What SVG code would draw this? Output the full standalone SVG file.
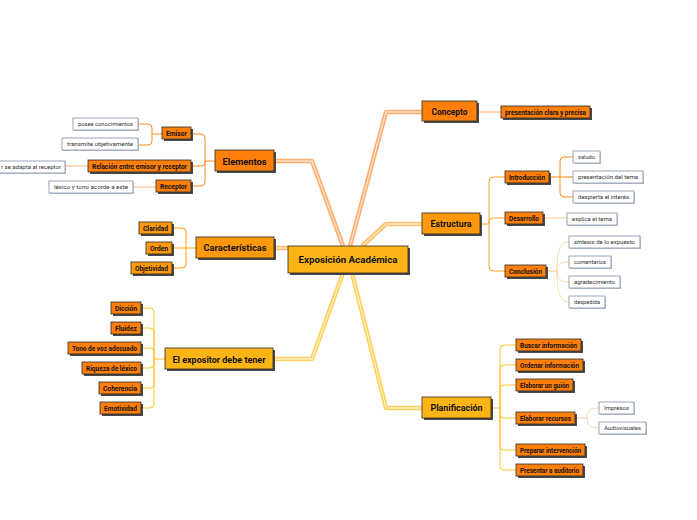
<svg xmlns="http://www.w3.org/2000/svg" width="697" height="520" viewBox="0 0 697 520">
<style>
text{font-family:Roboto,"Liberation Sans",sans-serif;}
.m{font-size:9.5px;font-weight:bold;fill:#111;text-anchor:middle;}
.s{font-size:6.5px;font-weight:bold;fill:#111;}
.l{font-size:6px;fill:#333;}
.sh{fill:#4a4a4a;}
.lsh{fill:#c4c8d0;}
.c1{fill:#ff7f0a;stroke:#2a2a2a;stroke-width:0.8;}
.c2{fill:#ff980a;stroke:#2a2a2a;stroke-width:0.8;}
.c3{fill:#fdb515;stroke:#2a2a2a;stroke-width:0.8;}
.lf{fill:#fff;stroke:#8090a8;stroke-width:0.8;}
.co{fill:none;stroke-linejoin:round;}
</style>
<rect width="697" height="520" fill="#fff"/>
<g id="connectors">
  <!-- main connectors -->
  <g class="co" stroke-width="4.5">
    <path d="M274,161 H312 L343,246" stroke="#ffae70"/>
    <path d="M274,248 H288" stroke="#ffc070"/>
    <path d="M274,359 H312 L343,273" stroke="#ffd060"/>
    <path d="M350,246 L386,112 H422" stroke="#ffae70"/>
    <path d="M362,246 L386,224 H422" stroke="#ffc070"/>
    <path d="M352,273 L386,408 H422" stroke="#ffd060"/>
  </g>
  <g class="co" stroke-width="1.3">
    <path d="M274,161 H312 L343,246" stroke="#ffe2c8"/>
    <path d="M274,248 H288" stroke="#ffe6c0"/>
    <path d="M274,359 H312 L343,273" stroke="#fff0c0"/>
    <path d="M350,246 L386,112 H422" stroke="#ffe2c8"/>
    <path d="M362,246 L386,224 H422" stroke="#ffe6c0"/>
    <path d="M352,273 L386,408 H422" stroke="#fff0c0"/>
  </g>
  <!-- Concepto -->
  <path class="co" d="M477,112 H501" stroke="#ffb880" stroke-width="1.2"/>
  <!-- Estructura -->
  <g class="co" stroke="#ffa020" stroke-width="1">
    <path d="M480,224 H489 V181 Q489,177 493,177 H505"/>
    <path d="M489,224 V222 Q489,218 493,218 H505"/>
    <path d="M489,224 V267 Q489,271 493,271 H505"/>
  </g>
  <g class="co" stroke="#ff8a10" stroke-width="1">
    <path d="M549,177 H560 V161 Q560,157 564,157 H573"/>
    <path d="M560,177 H573"/>
    <path d="M560,177 V193 Q560,197 564,197 H573"/>
  </g>
  <path class="co" d="M543,218 H567" stroke="#ffd0a8" stroke-width="1.2"/>
  <g class="co" stroke="#ffd0a8" stroke-width="0.9">
    <path d="M546,271 H557 C557,250 560,242 569,242"/>
    <path d="M557,271 C557,264 560,262 569,262"/>
    <path d="M557,271 C557,278 560,282 569,282"/>
    <path d="M557,271 C557,292 560,302 569,302"/>
    <path d="M546,271 H557"/>
  </g>
  <!-- Planificación -->
  <g class="co" stroke="#ffc428" stroke-width="1">
    <path d="M491,408 H500 V349 Q500,345 504,345 H516"/>
    <path d="M500,408 V369 Q500,365 504,365 H516"/>
    <path d="M500,408 V389 Q500,385 504,385 H516"/>
    <path d="M500,408 V414 Q500,418 504,418 H516"/>
    <path d="M500,408 V446 Q500,450 504,450 H516"/>
    <path d="M500,408 V466 Q500,470 504,470 H516"/>
  </g>
  <g class="co" stroke="#ffc9a0" stroke-width="0.9">
    <path d="M575,418 H587 C587,411 590,408 599,408"/>
    <path d="M587,418 C587,425 590,428 599,428"/>
  </g>
  <!-- Elementos -->
  <g class="co" stroke="#ff8a1a" stroke-width="1">
    <path d="M215,161 H205 V138 Q205,134 201,134 H191"/>
    <path d="M205,161 V162 Q205,166 201,166 H191"/>
    <path d="M205,161 V182 Q205,186 201,186 H191"/>
    <path d="M162,134 H152 V128 Q152,124 148,124 H138"/>
    <path d="M152,134 V141 Q152,145 148,145 H138"/>
  </g>
  <path class="co" d="M88,166 H65" stroke="#ffc090" stroke-width="1.2"/>
  <path class="co" d="M156,187 H133" stroke="#ffc090" stroke-width="1.2"/>
  <!-- Características -->
  <g class="co" stroke="#ff9a0a" stroke-width="1">
    <path d="M196,248 H186 V232 Q186,228 182,228 H172"/>
    <path d="M186,248 H172"/>
    <path d="M186,248 V264 Q186,268 182,268 H172"/>
  </g>
  <!-- Expositor -->
  <g class="co" stroke="#ffc428" stroke-width="1">
    <path d="M165,359 H154 V312 Q154,308 150,308 H141"/>
    <path d="M154,359 V332 Q154,328 150,328 H141"/>
    <path d="M154,359 V352 Q154,348 150,348 H141"/>
    <path d="M154,359 V364 Q154,368 150,368 H141"/>
    <path d="M154,359 V384 Q154,388 150,388 H141"/>
    <path d="M154,359 V404 Q154,408 150,408 H141"/>
  </g>
</g>

<!-- Central -->
<g id="n-central"><rect class="sh" x="290" y="248" width="120" height="27"/><rect class="c3" x="288" y="246" width="120" height="27"/><text class="m" x="348" y="263" font-size="10" textLength="99" lengthAdjust="spacingAndGlyphs">Exposición Académica</text></g>

<!-- Main nodes -->
<g id="n-concepto"><rect class="sh" x="424" y="103" width="55" height="20"/><rect class="c1" x="422" y="101" width="55" height="20"/><text class="m" x="449.5" y="114.5" textLength="36" lengthAdjust="spacingAndGlyphs">Concepto</text></g>
<g id="n-estructura"><rect class="sh" x="424" y="215" width="58" height="21"/><rect class="c2" x="422" y="213" width="58" height="21"/><text class="m" x="451" y="227" textLength="41" lengthAdjust="spacingAndGlyphs">Estructura</text></g>
<g id="n-planificacion"><rect class="sh" x="424" y="399" width="69" height="21"/><rect class="c3" x="422" y="397" width="69" height="21"/><text class="m" x="456.5" y="411" textLength="52" lengthAdjust="spacingAndGlyphs">Planificación</text></g>
<g id="n-elementos"><rect class="sh" x="217" y="152" width="59" height="21"/><rect class="c1" x="215" y="150" width="59" height="21"/><text class="m" x="244.5" y="164.5" textLength="44" lengthAdjust="spacingAndGlyphs">Elementos</text></g>
<g id="n-caracteristicas"><rect class="sh" x="198" y="239" width="78" height="21"/><rect class="c2" x="196" y="237" width="78" height="21"/><text class="m" x="235" y="251" textLength="63" lengthAdjust="spacingAndGlyphs">Características</text></g>
<g id="n-expositor"><rect class="sh" x="167" y="350" width="108" height="21"/><rect class="c3" x="165" y="348" width="108" height="21"/><text class="m" x="219" y="362.5" textLength="93" lengthAdjust="spacingAndGlyphs">El expositor debe tener</text></g>

<!-- Concepto child -->
<g id="n-presentacion-clara"><rect class="sh" x="503" y="108" width="89" height="12"/><rect class="c1" x="501" y="106" width="89" height="12"/><text class="s" x="505" y="114.5" textLength="81" lengthAdjust="spacingAndGlyphs">presentación clara y precisa</text></g>

<!-- Estructura children -->
<g id="n-introduccion"><rect class="sh" x="507" y="173" width="44" height="12"/><rect class="c1" x="505" y="171" width="44" height="12"/><text class="s" x="509" y="179.5" textLength="36" lengthAdjust="spacingAndGlyphs">Introducción</text></g>
<g id="n-desarrollo"><rect class="sh" x="507" y="214" width="38" height="12"/><rect class="c1" x="505" y="212" width="38" height="12"/><text class="s" x="509" y="220.5" textLength="30" lengthAdjust="spacingAndGlyphs">Desarrollo</text></g>
<g id="n-conclusion"><rect class="sh" x="507" y="267" width="41" height="12"/><rect class="c1" x="505" y="265" width="41" height="12"/><text class="s" x="509" y="273.5" textLength="33" lengthAdjust="spacingAndGlyphs">Conclusión</text></g>

<g id="n-saludo"><rect class="lsh" x="574" y="152" width="27" height="12"/><rect class="lf" x="573" y="151" width="27" height="12"/><text class="l" x="578" y="159.3" textLength="17" lengthAdjust="spacingAndGlyphs">saludo</text></g>
<g id="n-presentacion-tema"><rect class="lsh" x="574" y="172" width="70" height="12"/><rect class="lf" x="573" y="171" width="70" height="12"/><text class="l" x="578" y="179.3" textLength="60" lengthAdjust="spacingAndGlyphs">presentación del tema</text></g>
<g id="n-despierta"><rect class="lsh" x="574" y="192" width="61" height="12"/><rect class="lf" x="573" y="191" width="61" height="12"/><text class="l" x="578" y="199.3" textLength="51" lengthAdjust="spacingAndGlyphs">despierta el interés</text></g>
<g id="n-explica"><rect class="lsh" x="568" y="214" width="50" height="12"/><rect class="lf" x="567" y="213" width="50" height="12"/><text class="l" x="572" y="221.3" textLength="40" lengthAdjust="spacingAndGlyphs">explica el tema</text></g>
<g id="n-sintesis"><rect class="lsh" x="570" y="237" width="71" height="12"/><rect class="lf" x="569" y="236" width="71" height="12"/><text class="l" x="574" y="244.3" textLength="61" lengthAdjust="spacingAndGlyphs">síntesis de lo expuesto</text></g>
<g id="n-comentarios"><rect class="lsh" x="570" y="257" width="42" height="12"/><rect class="lf" x="569" y="256" width="42" height="12"/><text class="l" x="574" y="264.3" textLength="32" lengthAdjust="spacingAndGlyphs">comentarios</text></g>
<g id="n-agradecimiento"><rect class="lsh" x="570" y="277" width="51" height="12"/><rect class="lf" x="569" y="276" width="51" height="12"/><text class="l" x="574" y="284.3" textLength="41" lengthAdjust="spacingAndGlyphs">agradecimiento</text></g>
<g id="n-despedida"><rect class="lsh" x="570" y="297" width="36" height="12"/><rect class="lf" x="569" y="296" width="36" height="12"/><text class="l" x="574" y="304.3" textLength="26" lengthAdjust="spacingAndGlyphs">despedida</text></g>

<!-- Planificación children -->
<g id="n-buscar"><rect class="sh" x="518" y="341" width="65" height="12"/><rect class="c1" x="516" y="339" width="65" height="12"/><text class="s" x="520" y="347.5" textLength="57" lengthAdjust="spacingAndGlyphs">Buscar información</text></g>
<g id="n-ordenar"><rect class="sh" x="518" y="361" width="67" height="12"/><rect class="c1" x="516" y="359" width="67" height="12"/><text class="s" x="520" y="367.5" textLength="59" lengthAdjust="spacingAndGlyphs">Ordenar información</text></g>
<g id="n-guion"><rect class="sh" x="518" y="381" width="57" height="12"/><rect class="c1" x="516" y="379" width="57" height="12"/><text class="s" x="520" y="387.5" textLength="49" lengthAdjust="spacingAndGlyphs">Elaborar un guión</text></g>
<g id="n-recursos"><rect class="sh" x="518" y="414" width="59" height="12"/><rect class="c1" x="516" y="412" width="59" height="12"/><text class="s" x="520" y="420.5" textLength="51" lengthAdjust="spacingAndGlyphs">Elaborar recursos</text></g>
<g id="n-preparar"><rect class="sh" x="518" y="446" width="69" height="12"/><rect class="c1" x="516" y="444" width="69" height="12"/><text class="s" x="520" y="452.5" textLength="61" lengthAdjust="spacingAndGlyphs">Preparar intervención</text></g>
<g id="n-presentar"><rect class="sh" x="518" y="466" width="67" height="12"/><rect class="c1" x="516" y="464" width="67" height="12"/><text class="s" x="520" y="472.5" textLength="59" lengthAdjust="spacingAndGlyphs">Presentar a auditorio</text></g>
<g id="n-impresos"><rect class="lsh" x="600" y="403" width="35" height="12"/><rect class="lf" x="599" y="402" width="35" height="12"/><text class="l" x="604" y="410.3" textLength="25" lengthAdjust="spacingAndGlyphs">Impresos</text></g>
<g id="n-audiovisuales"><rect class="lsh" x="600" y="423" width="47" height="12"/><rect class="lf" x="599" y="422" width="47" height="12"/><text class="l" x="604" y="430.3" textLength="37" lengthAdjust="spacingAndGlyphs">Audiovisuales</text></g>

<!-- Elementos children -->
<g id="n-emisor"><rect class="sh" x="164" y="129" width="29" height="12"/><rect class="c1" x="162" y="127" width="29" height="12"/><text class="s" x="166" y="135.5" textLength="21" lengthAdjust="spacingAndGlyphs">Emisor</text></g>
<g id="n-relacion"><rect class="sh" x="90" y="162" width="103" height="12"/><rect class="c1" x="88" y="160" width="103" height="12"/><text class="s" x="92" y="168.5" textLength="95" lengthAdjust="spacingAndGlyphs">Relación entre emisor y receptor</text></g>
<g id="n-receptor"><rect class="sh" x="158" y="182" width="35" height="12"/><rect class="c1" x="156" y="180" width="35" height="12"/><text class="s" x="160" y="188.5" textLength="27" lengthAdjust="spacingAndGlyphs">Receptor</text></g>
<g id="n-posee"><rect class="lsh" x="74" y="119" width="65" height="12"/><rect class="lf" x="73" y="118" width="65" height="12"/><text class="l" x="78" y="126.3" textLength="55" lengthAdjust="spacingAndGlyphs">posee conocimientos</text></g>
<g id="n-transmite"><rect class="lsh" x="63" y="139" width="76" height="12"/><rect class="lf" x="62" y="138" width="76" height="12"/><text class="l" x="67" y="146.3" textLength="66" lengthAdjust="spacingAndGlyphs">transmite objetivamente</text></g>
<g id="n-adapta"><rect class="lsh" x="-9" y="162" width="75" height="12"/><rect class="lf" x="-10" y="161" width="75" height="12"/><text class="l" x="1" y="169.3" textLength="60" lengthAdjust="spacingAndGlyphs">r se adapta al receptor</text></g>
<g id="n-lexico-tono"><rect class="lsh" x="50" y="182" width="84" height="12"/><rect class="lf" x="49" y="181" width="84" height="12"/><text class="l" x="54" y="189.3" textLength="74" lengthAdjust="spacingAndGlyphs">léxico y tono acorde a este</text></g>

<!-- Características children -->
<g id="n-claridad"><rect class="sh" x="141" y="224" width="33" height="12"/><rect class="c2" x="139" y="222" width="33" height="12"/><text class="s" x="143" y="230.5" textLength="25" lengthAdjust="spacingAndGlyphs">Claridad</text></g>
<g id="n-orden"><rect class="sh" x="148" y="244" width="26" height="12"/><rect class="c2" x="146" y="242" width="26" height="12"/><text class="s" x="150" y="250.5" textLength="18" lengthAdjust="spacingAndGlyphs">Orden</text></g>
<g id="n-objetividad"><rect class="sh" x="133" y="264" width="41" height="12"/><rect class="c2" x="131" y="262" width="41" height="12"/><text class="s" x="135" y="270.5" textLength="33" lengthAdjust="spacingAndGlyphs">Objetividad</text></g>

<!-- Expositor children -->
<g id="n-diccion"><rect class="sh" x="113" y="304" width="30" height="12"/><rect class="c1" x="111" y="302" width="30" height="12"/><text class="s" x="115" y="310.5" textLength="22" lengthAdjust="spacingAndGlyphs">Dicción</text></g>
<g id="n-fluidez"><rect class="sh" x="113" y="324" width="30" height="12"/><rect class="c1" x="111" y="322" width="30" height="12"/><text class="s" x="115" y="330.5" textLength="22" lengthAdjust="spacingAndGlyphs">Fluidez</text></g>
<g id="n-tono"><rect class="sh" x="70" y="344" width="73" height="12"/><rect class="c1" x="68" y="342" width="73" height="12"/><text class="s" x="72" y="350.5" textLength="65" lengthAdjust="spacingAndGlyphs">Tono de voz adecuado</text></g>
<g id="n-riqueza"><rect class="sh" x="84" y="364" width="59" height="12"/><rect class="c1" x="82" y="362" width="59" height="12"/><text class="s" x="86" y="370.5" textLength="51" lengthAdjust="spacingAndGlyphs">Riqueza de léxico</text></g>
<g id="n-coherencia"><rect class="sh" x="101" y="384" width="42" height="12"/><rect class="c1" x="99" y="382" width="42" height="12"/><text class="s" x="103" y="390.5" textLength="34" lengthAdjust="spacingAndGlyphs">Coherencia</text></g>
<g id="n-emotividad"><rect class="sh" x="102" y="404" width="41" height="12"/><rect class="c1" x="100" y="402" width="41" height="12"/><text class="s" x="104" y="410.5" textLength="33" lengthAdjust="spacingAndGlyphs">Emotividad</text></g>
</svg>
